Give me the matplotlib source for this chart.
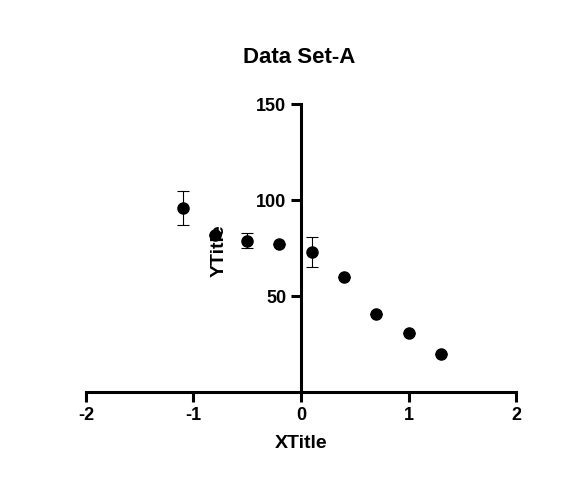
import matplotlib
matplotlib.use("Agg")
import matplotlib.pyplot as plt

x = [-1.1, -0.8, -0.5, -0.2, 0.1, 0.4, 0.7, 1.0, 1.3]
y = [96, 82, 79, 77, 73, 60, 41, 31, 20]
yerr = [9, 0, 4, 0, 8, 0, 0, 0, 0]
xticks = [-2, -1, 0, 1, 2]
yticks = [50, 100, 150]

plt.rcParams['font.family'] = ['Liberation Sans', 'DejaVu Sans']
plt.rcParams['font.weight'] = 'bold'
fig = plt.figure(figsize=(5.76, 4.83), dpi=100)
ax = fig.add_axes([0.149, 0.188, 0.747, 0.596])
ax.errorbar(x, y, yerr=yerr, fmt='o', color='black', ms=8, capsize=4, elinewidth=0.8, capthick=0.8)
ax.set_xlim(-2, 2)
ax.set_ylim(0, 150)
ax.spines['top'].set_visible(False)
ax.spines['right'].set_visible(False)
ax.spines['left'].set_position(('data', 0))
ax.spines['bottom'].set_position(('data', 0))
for s in ['left', 'bottom']:
    ax.spines[s].set_linewidth(2.2)
ax.set_xticks(xticks)
ax.set_yticks(yticks)
ax.set_xticklabels([str(t) for t in xticks])
ax.tick_params(width=2.2, length=7, labelsize=13)
for lab in ax.get_xticklabels() + ax.get_yticklabels():
    lab.set_fontweight('bold')
ax.set_xlabel('XTitle', fontsize=14, fontweight='bold', labelpad=8)
ax.set_ylabel('YTitle', fontsize=14, fontweight='bold')
ax.yaxis.set_label_coords(0.33, 0.49)
fig.text(0.52, 0.88, 'Data Set-A', ha='center', va='center', fontsize=16, fontweight='bold')
fig.savefig('out.png', dpi=100)
